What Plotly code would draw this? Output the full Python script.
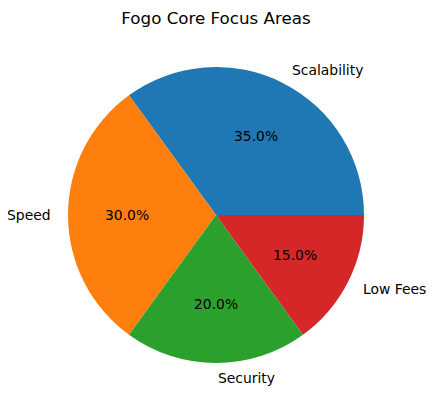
import numpy as np
import plotly.graph_objects as go

labels = ["Scalability", "Speed", "Security", "Low Fees"]
values = [35, 30, 20, 15]
colors = ["#1f77b4", "#ff7f0e", "#2ca02c", "#d62728"]
title = "Fogo Core Focus Areas"

# the page body adds an 8px margin, so lay out in a slightly smaller figure
OFF = 8
W, H = 434 - OFF, 411 - OFF
cx, cy, r = 216 - OFF, 215 - OFF, 148  # pie centre and radius in pixels

total = sum(values)
first_span = 360.0 * values[0] / total

fig = go.Figure()
fig.add_trace(go.Pie(
    labels=labels, values=values, sort=False,
    direction="counterclockwise", rotation=90 - first_span,
    marker=dict(colors=colors, line=dict(width=0)),
    textinfo="none", hoverinfo="label+percent", showlegend=False,
    domain=dict(x=[(cx - r) / W, (cx + r) / W], y=[1 - (cy + r) / H, 1 - (cy - r) / H]),
))

# labels and percentages placed like matplotlib (labeldistance 1.1, pctdistance 0.6)
start = 0.0
annotations = []
for lab, v in zip(labels, values):
    span = 360.0 * v / total
    mid = np.radians(start + span / 2)
    start += span
    ux, uy = np.cos(mid), np.sin(mid)
    lx, ly = cx + 1.1 * r * ux, cy - 1.1 * r * uy
    annotations.append(dict(
        x=lx / W, y=1 - ly / H, xref="paper", yref="paper", text=lab, showarrow=False,
        xanchor="left" if ux > -1e-6 else "right", yanchor="middle",
        font=dict(size=13.9, color="black"),
    ))
    px, py = cx + 0.6 * r * ux, cy - 0.6 * r * uy
    annotations.append(dict(
        x=px / W, y=1 - py / H, xref="paper", yref="paper", text=f"{100 * v / total:.1f}%",
        showarrow=False, xanchor="center", yanchor="middle",
        font=dict(size=13.9, color="black"),
    ))

fig.update_layout(
    width=W, height=H,
    title=dict(text=title, x=(216 - OFF) / W, xanchor="center", y=1 - (18 - OFF) / H,
               yanchor="middle", font=dict(size=16.7, color="black")),
    font=dict(family="DejaVu Sans"),
    margin=dict(l=0, r=0, t=0, b=0),
    paper_bgcolor="white", plot_bgcolor="white",
    annotations=annotations,
)

fig.write_html("out.html")
